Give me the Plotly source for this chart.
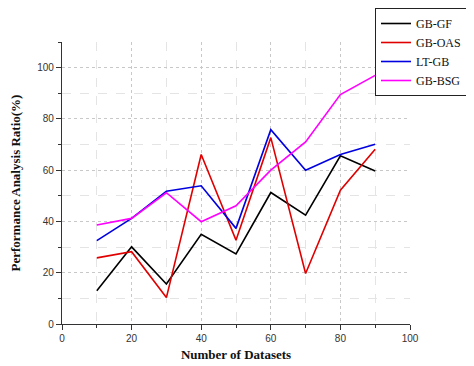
import plotly.graph_objects as go

x_vals = [10, 20, 30, 40, 50, 60, 70, 80, 90]
gb_gf = [13.0, 30.1, 15.6, 35.0, 27.3, 51.3, 42.5, 65.6, 59.7]
gb_oas = [25.8, 28.2, 10.3, 66.1, 32.7, 72.7, 19.7, 52.2, 68.2]
lt_gb = [32.5, 41.2, 51.8, 53.9, 37.3, 75.8, 60.0, 66.1, 70.1]
gb_bsg = [38.6, 41.2, 51.2, 39.9, 46.1, 60.0, 71.0, 89.5, 97.0]

series = [
    ("GB-GF", gb_gf, "#000000"),
    ("GB-OAS", gb_oas, "#e00000"),
    ("LT-GB", lt_gb, "#0000e0"),
    ("GB-BSG", gb_bsg, "#ff00ff"),
]

fig = go.Figure()
for name, ys, col in series:
    fig.add_trace(go.Scatter(x=x_vals, y=ys, mode="lines", name=name,
                             line=dict(color=col, width=1.6)))

axis_common = dict(
    showline=True, linecolor="#333333", linewidth=1.2,
    ticks="outside", ticklen=5, tickcolor="#333333",
    tickfont=dict(family="Liberation Sans, Arial", size=10, color="#333333"),
    showgrid=True, gridcolor="#c8c8c8", griddash="dot", gridwidth=1,
    zeroline=False, mirror=False, automargin=False,
    minor=dict(ticks="outside", ticklen=3, tickcolor="#333333", dtick=10,
               showgrid=True, gridcolor="#e4e4e4", griddash="dash"),
)

# The page body has an 8px margin, so the figure is sized to fit inside the window.
fig.update_layout(
    width=466, height=358,
    margin=dict(l=54, r=64, t=34, b=42, autoexpand=False),
    paper_bgcolor="white", plot_bgcolor="white",
    xaxis=dict(range=[0, 100], dtick=20, tick0=0,
               title=dict(text="<b>Number of Datasets</b>", standoff=6,
                          font=dict(family="Liberation Serif", size=13, color="#111111")),
               **axis_common),
    yaxis=dict(range=[0, 110], dtick=20, tick0=0,
               title=dict(text="<b>Performance Analysis Ratio(%)</b>", standoff=26,
                          font=dict(family="Liberation Serif", size=13, color="#111111")),
               **axis_common),
    legend=dict(xref="container", yref="container", x=0.985, y=1.0,
                xanchor="right", yanchor="top",
                bordercolor="#222222", borderwidth=1, bgcolor="white",
                font=dict(family="Liberation Serif", size=12, color="#111111"),
                tracegroupgap=0, itemwidth=30),
    showlegend=True,
)

fig.write_html("out.html")
